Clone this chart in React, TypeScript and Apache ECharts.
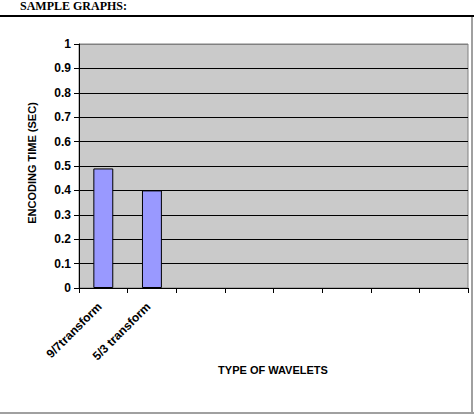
import React, { useEffect, useRef } from "react";
import * as echarts from "echarts";

const categories = ["9/7transform", "5/3 transform", "", "", "", "", "", ""];
const encodingTime = [0.49, 0.4, null, null, null, null, null, null];
const yTicks = ["0", "0.1", "0.2", "0.3", "0.4", "0.5", "0.6", "0.7", "0.8", "0.9", "1"];

export default function App() {
  const ref = useRef<HTMLDivElement>(null);
  useEffect(() => {
    if (!ref.current) return;
    const chart = echarts.init(ref.current, null, { renderer: "svg" });
    const lab = { fontFamily: "Arial, Liberation Sans", fontWeight: "bold", fontSize: 12, color: "#000" };
    const gridColors = yTicks.map((_, i) => (i === yTicks.length - 1 ? "#808080" : "#000"));
    chart.setOption({
      animation: false,
      backgroundColor: "#ffffff",
      grid: {
        left: 79,
        right: 6,
        top: 44,
        bottom: 126,
        show: true,
        backgroundColor: "#cacaca",
        borderColor: "#808080",
        borderWidth: 1,
      },
      xAxis: {
        type: "category",
        data: categories,
        axisLine: { lineStyle: { color: "#000", width: 1 } },
        axisTick: { show: true, length: 5, lineStyle: { color: "#000" } },
        axisLabel: { ...lab, rotate: 45, interval: 0, margin: 13, padding: [0, 5, 0, 0] },
      },
      yAxis: {
        type: "value",
        min: 0,
        max: 1,
        interval: 0.1,
        axisLine: { show: true, lineStyle: { color: "#000", width: 1 } },
        axisTick: { show: true, length: 5, lineStyle: { color: "#000" } },
        axisLabel: {
          ...lab,
          margin: 8,
          formatter: (v: number) => yTicks[Math.round(v * 10)],
        },
        splitLine: { show: true, lineStyle: { color: gridColors, width: 1 } },
      },
      series: [
        {
          type: "bar",
          data: encodingTime,
          barWidth: "41%",
          itemStyle: { color: "#9999ff", borderColor: "#000", borderWidth: 1 },
        },
      ],
      graphic: [
        {
          type: "text",
          left: 20,
          top: 0,
          style: {
            text: "SAMPLE GRAPHS:",
            fontFamily: "Times New Roman, Liberation Serif",
            fontWeight: "bold",
            fontSize: 12,
            fill: "#000",
          },
        },
        {
          type: "line",
          shape: { x1: 0, y1: 16, x2: 474, y2: 16 },
          style: { stroke: "#000", lineWidth: 2 },
        },
        {
          type: "line",
          shape: { x1: 472, y1: 17, x2: 472, y2: 413 },
          style: { stroke: "#a0a0a0", lineWidth: 2 },
        },
        {
          type: "line",
          shape: { x1: 0, y1: 413, x2: 474, y2: 413 },
          style: { stroke: "#a0a0a0", lineWidth: 2 },
        },
        {
          type: "text",
          x: 32,
          y: 163,
          rotation: Math.PI / 2,
          style: {
            text: "ENCODING TIME (SEC)",
            fontFamily: "Arial, Liberation Sans",
            fontWeight: "bold",
            fontSize: 11,
            fill: "#000",
            align: "center",
            verticalAlign: "middle",
          },
        },
        {
          type: "text",
          x: 273,
          y: 370,
          style: {
            text: "TYPE OF WAVELETS",
            fontFamily: "Arial, Liberation Sans",
            fontWeight: "bold",
            fontSize: 11,
            fill: "#000",
            align: "center",
            verticalAlign: "middle",
          },
        },
      ],
    });
    return () => chart.dispose();
  }, []);
  return (
    <div
      ref={ref}
      style={{ position: "fixed", left: 0, top: 0, width: 474, height: 414 }}
    />
  );
}
